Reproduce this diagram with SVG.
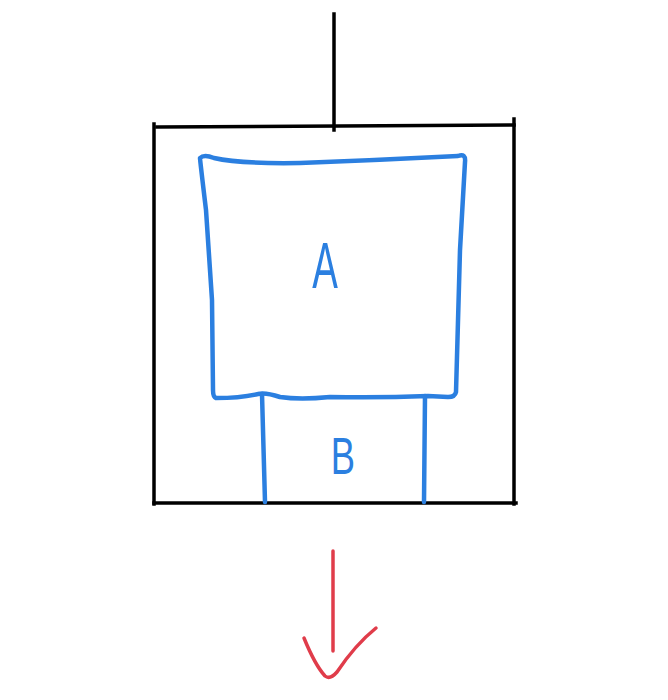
<svg xmlns="http://www.w3.org/2000/svg" width="668" height="700" viewBox="0 0 668 700">
<style>
.blk{fill:none;stroke:#000;stroke-width:3.5;stroke-linecap:square}
.blu{fill:none;stroke:#2b7fe0;stroke-width:4.5;stroke-linecap:round;stroke-linejoin:round}
.red{fill:none;stroke:#e03c4a;stroke-width:3.5;stroke-linecap:round;stroke-linejoin:round}
.lbl{font-family:"Liberation Sans",Arial,sans-serif;fill:#2b7fe0;text-anchor:middle}
</style>
<rect width="668" height="700" fill="#fff"/>
<g id="housing">
<path class="blk" d="M334 14 L334 130"/>
<path class="blk" d="M157 127 L514 125"/>
<path class="blk" d="M154 124 L154 504"/>
<path class="blk" d="M514 119 L514 504"/>
<path class="blk" d="M154 503 L516 503"/>
</g>
<g id="nodeA">
<path class="blu" d="M200 158 Q204 154 214 158 Q240 164 300 163 Q380 160 458 156 Q466 153 465 162 L460 250 L456 392 Q455 397 448 397 L428 396 Q380 398 330 397 Q300 400 280 397 Q265 392 258 394 Q240 398 216 398 Q213 397 213 390 L212 300 L206 210 Q200 160 200 158 Z"/>
<text class="lbl" transform="translate(325 288) scale(0.6 1)" x="0" y="0" font-size="64" font-weight="300">A</text>
</g>
<g id="nodeB">
<path class="blu" d="M262 394 L265 502"/>
<path class="blu" d="M425 396 L424 502"/>
<text class="lbl" transform="translate(343 474) scale(0.7 1)" x="0" y="0" font-size="52" font-weight="300">B</text>
</g>
<g id="connectors">
<path class="red" d="M333 551 L333 651"/>
<path class="red" d="M304 638 Q315 665 325 676 Q330 680 337 672 Q355 645 376 628"/>
</g>
</svg>
